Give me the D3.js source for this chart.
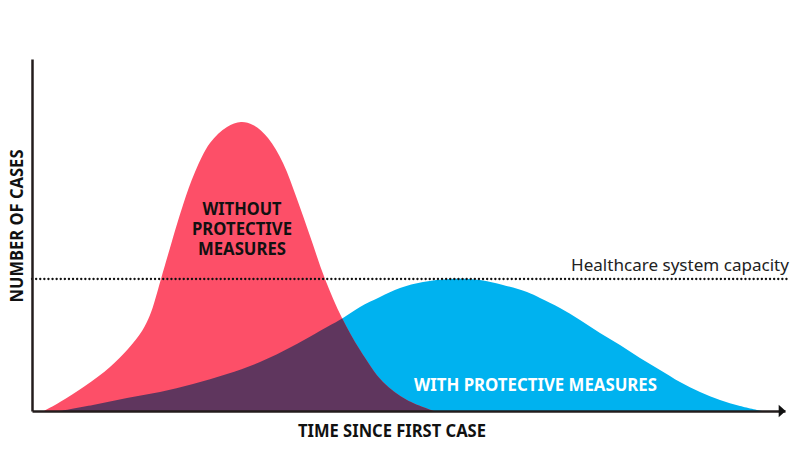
<!DOCTYPE html>
<html>
<head>
<meta charset="utf-8">
<script src="https://cdn.jsdelivr.net/npm/d3@7"></script>
<style>
html, body { margin: 0; background: #fff; }
svg { display: block; }
text { font-family: "Noto Sans", "Lato", sans-serif; fill: #111; }
.lab { font-weight: 700; font-size: 18px; }
</style>
</head>
<body>
<svg id="chart" width="800" height="450"></svg>
<script>
// values, in arbitrary units (the original has no scale)
var redTime = [12, 28, 53, 78, 96, 110, 118, 123, 129, 138, 151, 163, 178, 195, 209, 221, 236, 251, 265, 278, 293, 310, 328, 351, 375, 402];
var redCases = [0, 9, 25, 44, 62, 80, 96, 111, 132, 163, 206, 239, 268, 284, 289, 286, 273, 248, 212, 175, 132, 93, 61, 29, 11, 0];

var blueTime = [28, 61, 95, 128, 161, 195, 228, 261, 295, 311, 328, 348, 368, 391, 418, 448, 471, 495, 508, 528, 548, 568, 588, 608, 628, 648, 668, 688, 708, 730];
var blueCases = [0, 6, 13, 19, 27, 37, 49, 65, 84, 93, 104, 114, 123, 129, 132, 131, 126, 119, 113, 103, 91, 78, 66, 53, 41, 29, 19, 11, 5, 0];

var capacity = 132;

var svg = d3.select('#chart');
var x = d3.scaleLinear().domain([0, 753]).range([32, 785]);
var y = d3.scaleLinear().domain([0, 352]).range([411, 59]);

var area = d3.area()
    .x(function(d) { return x(d[0]); })
    .y0(y(0))
    .y1(function(d) { return y(d[1]); })
    .curve(d3.curveCatmullRom.alpha(0.5));

var red = d3.zip(redTime, redCases);
var blue = d3.zip(blueTime, blueCases);

svg.append('clipPath').attr('id', 'redclip').append('path').attr('d', area(red));

svg.append('path').attr('d', area(blue)).attr('fill', '#00b2ef');
svg.append('path').attr('d', area(red)).attr('fill', '#fd4f68');
// overlap: blue shape seen through the red one
svg.append('path').attr('d', area(blue)).attr('fill', '#5f365e').attr('clip-path', 'url(#redclip)');

// capacity line
svg.append('line')
    .attr('x1', x(0)).attr('x2', 790)
    .attr('y1', y(capacity)).attr('y2', y(capacity))
    .attr('stroke', '#111').attr('stroke-width', 2.3)
    .attr('stroke-linecap', 'round').attr('stroke-dasharray', '0.1 4');

// axes, no ticks in the original
var xAxis = d3.axisBottom(x).tickValues([]).tickSize(0);
var yAxis = d3.axisLeft(y).tickValues([]).tickSize(0);
svg.append('g').attr('transform', 'translate(0,' + y(0) + ')').call(xAxis)
    .select('.domain').attr('stroke', '#231c1c').attr('stroke-width', 2.5);
svg.append('g').attr('transform', 'translate(' + x(0) + ',0)').call(yAxis)
    .select('.domain').attr('stroke', '#231c1c').attr('stroke-width', 2.5);

svg.append('path')
    .attr('d', d3.symbol().type(d3.symbolTriangle).size(70))
    .attr('transform', 'translate(' + (x(753) - 4) + ',' + y(0) + ') rotate(90) scale(1,0.63)')
    .attr('fill', '#111');

function label(t, px, py, w) {
    return svg.append('text').attr('class', 'lab')
        .attr('x', px).attr('y', py).attr('text-anchor', 'middle')
        .attr('textLength', w).attr('lengthAdjust', 'spacingAndGlyphs').text(t);
}
label('WITHOUT', 242, 215, 79);
label('PROTECTIVE', 242, 235, 100);
label('MEASURES', 242, 255, 88);
label('WITH PROTECTIVE MEASURES', 535.5, 391, 243).style('fill', '#fff');
label('TIME SINCE FIRST CASE', 392, 436.5, 188);
label('NUMBER OF CASES', 0, 0, 153).attr('transform', 'translate(23,226) rotate(-90)');

svg.append('text')
    .attr('x', 789).attr('y', 270.5).attr('text-anchor', 'end')
    .attr('font-size', 17).attr('textLength', 218).attr('lengthAdjust', 'spacingAndGlyphs')
    .style('fill', '#222')
    .text('Healthcare system capacity');
</script>
</body>
</html>
